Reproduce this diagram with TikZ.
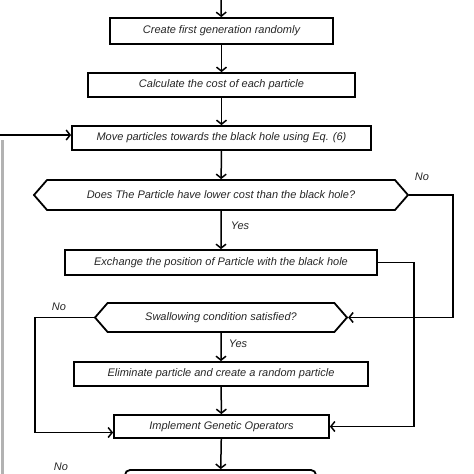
\documentclass[tikz,border=0pt]{standalone}
\usepackage{fontspec}
\setmainfont{Liberation Sans}
\usetikzlibrary{shapes.symbols,arrows.meta}

\begin{document}
\begin{tikzpicture}
[x=1pt,y=-1pt,line width=1.5pt,
stepbox/.style={draw,line width=1.8pt,minimum height=24pt,inner sep=0pt,
  text=black!85,font=\fontsize{11}{13}\selectfont\itshape},
query/.style={stepbox,signal,signal to=east and west,signal pointer angle=98},
lab/.style={text=black!85,font=\fontsize{11}{13}\selectfont\itshape},
>={Straight Barb[length=4pt,width=10pt]},
]
\useasboundingbox (0,0) rectangle (474,474);
\clip (0,0) rectangle (474,474);

\node[stepbox,minimum width=223pt,minimum height=26pt] (create) at (221.5,31) {Create first generation randomly};
\node[stepbox,minimum width=267pt] (calc) at (221.5,85) {Calculate the cost of each particle};
\node[stepbox,minimum width=299pt] (move) at (221.5,138) {Move particles towards the black hole using Eq. (6)};
\node[query,minimum width=374pt,minimum height=30pt] (lower) at (221,195) {Does The Particle have lower cost than the black hole?};
\node[stepbox,minimum width=312pt,minimum height=25pt] (exchange) at (221,262.5) {Exchange the position of Particle with the black hole};
\node[query,minimum width=252pt,minimum height=29pt] (swallow) at (221,317.5) {Swallowing condition satisfied?};
\node[stepbox,minimum width=294pt] (elim) at (221,374) {Eliminate particle and create a random particle};
\node[stepbox,minimum width=215pt,minimum height=23pt] (genetic) at (221.5,426.5) {Implement Genetic Operators};
\node[stepbox,rounded corners=5pt,minimum width=191pt] (next) at (220.5,482) {};

\node[lab] (no1) at (422,177) {No};
\node[lab] (yes1) at (240,226) {Yes};
\node[lab] (no2) at (59,307) {No};
\node[lab] (yes2) at (238,344) {Yes};
\node[lab] (no3) at (61,467) {No};

\coordinate (start) at (221,-2);
\coordinate (back) at (0,135);
\coordinate (r1) at (453,300);
\coordinate (r2) at (414,400);
\coordinate (l1) at (35,400);

\draw[->] (start) -- (create);
\draw[->] (create) -- (calc);
\draw[->] (calc) -- (move);
\draw[->] (move) -- (lower);
\draw[->] (lower) -- (exchange);
\draw[->] (swallow) -- (elim);
\draw[->] (elim) -- (genetic);
\draw[->] (genetic) -- (next);

\draw[->] (lower.east) -| (r1) |- (swallow.east);
\draw[->] (exchange.east) -| (r2) |- (genetic.east);
\draw[->] (swallow.west) -| (l1) |- ([yshift=-6pt]genetic.west);

\draw[->] (back) -- (move.west |- back);
\draw[gray!60,line width=3pt] (2,140) -- (2,480);
\end{tikzpicture}
\end{document}
